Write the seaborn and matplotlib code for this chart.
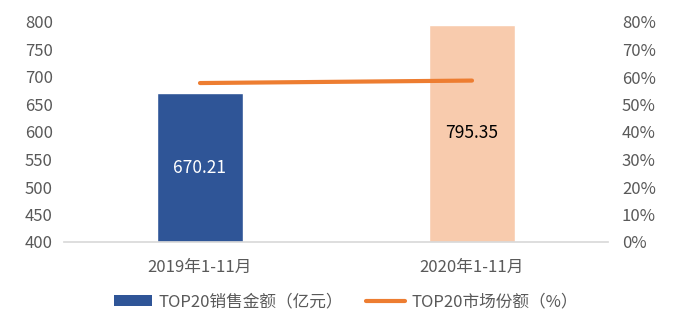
import matplotlib
matplotlib.use("Agg")
import matplotlib.pyplot as plt
import seaborn as sns
import pandas as pd
from matplotlib.ticker import FuncFormatter
from matplotlib.patches import Patch
from matplotlib.lines import Line2D

categories = ["2019年1-11月", "2020年1-11月"]
sales = [670.21, 795.35]
share = [57.8, 58.7]
sales_labels = ["670.21", "795.35"]
bar_colors = ["#2F5597", "#F8CBAD"]
label_colors = ["white", "black"]

sns.set_theme(style="white")
plt.rcParams['font.family'] = ['Noto Sans CJK SC', 'DejaVu Sans']

fig = plt.figure(figsize=(6.74, 3.28), dpi=100)
ax = fig.add_axes([64/674, 1-242/328, (608-64)/674, (242-22)/328])

df = pd.DataFrame({"cat": categories, "sales": sales, "share": share})
sns.barplot(data=df, x="cat", y="sales", hue="cat", palette=bar_colors,
            width=0.316, ax=ax, legend=False, saturation=1)
ax.set_ylim(400, 800)
ax.set_xlim(-0.5, 1.5)
ax.set_yticks(range(400, 801, 50))
for i, (v, t, c) in enumerate(zip(sales, sales_labels, label_colors)):
    ax.text(i, (400 + v) / 2, t, ha="center", va="center", color=c, fontsize=12.5)

ax2 = ax.twinx()
sns.lineplot(data=df, x="cat", y="share", ax=ax2, color="#ED7D31", linewidth=3,
             solid_capstyle="round", sort=False)
ax2.set_ylim(0, 80)
ax2.set_yticks(range(0, 81, 10))
ax2.yaxis.set_major_formatter(FuncFormatter(lambda v, p: f"{int(v)}%"))

for a in (ax, ax2):
    for s in a.spines.values():
        s.set_visible(False)
    a.set_xlabel("")
    a.set_ylabel("")
    a.tick_params(length=0, labelsize=12, colors="#595959")
ax.spines["bottom"].set_visible(True)
ax.spines["bottom"].set_color("#D9D9D9")
ax.tick_params(axis="y", pad=8)
ax2.tick_params(axis="y", pad=10)
ax.tick_params(axis="x", pad=12)

handles = [Patch(facecolor="#2F5597", edgecolor="none"),
           Line2D([0], [0], color="#ED7D31", linewidth=3)]
fig.legend(handles, ["TOP20销售金额（亿元）", "TOP20市场份额（%）"],
           loc="center", bbox_to_anchor=(0.513, 1-302/328), ncol=2, frameon=False,
           fontsize=12, labelcolor="#595959", handlelength=2.3, handleheight=0.6,
           columnspacing=1.4, handletextpad=0.4)

fig.savefig("out.png", dpi=100)
